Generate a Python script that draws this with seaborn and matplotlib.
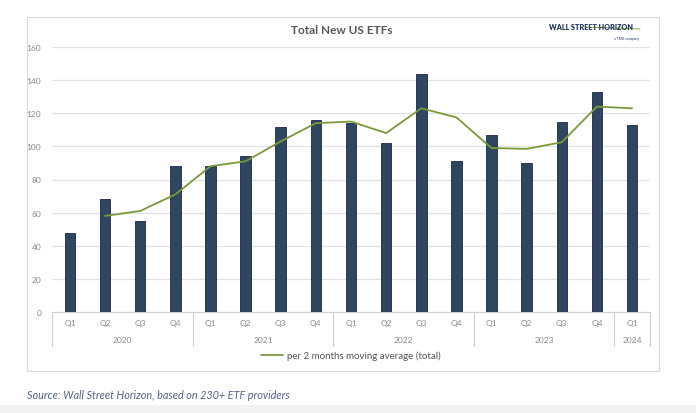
import matplotlib
matplotlib.use("Agg")
import matplotlib.pyplot as plt
import matplotlib.transforms as mtransforms
from matplotlib.patches import Rectangle
from matplotlib.lines import Line2D
import pandas as pd
import seaborn as sns

# data
quarters = ["Q1", "Q2", "Q3", "Q4"] * 4 + ["Q1"]
years = ["2020", "2021", "2022", "2023", "2024"]
year_sizes = [4, 4, 4, 4, 1]
new_etfs = [48, 68, 55, 88, 88, 94, 112, 116, 114, 102, 144, 91, 107, 90, 115, 133, 113]
moving_avg = [None, 58, 61, 71, 88, 91, 103, 114, 115, 108, 123, 117.5, 99, 98.5, 102.5, 124, 123]

labels = [f"{q}\n{i}" for i, q in enumerate(quarters)]
df = pd.DataFrame({"label": labels, "etfs": new_etfs, "ma": moving_avg, "pos": range(len(labels))})

sns.set_style("white")
plt.rcParams["font.family"] = ["Lato", "DejaVu Sans"]

fig = plt.figure(figsize=(6.96, 4.14), dpi=100)
ax = fig.add_axes([52.4 / 696, 1 - 313 / 414, (649.6 - 52.4) / 696, (313 - 48) / 414])

# outer chart frame and page footer band
fig.patches.append(Rectangle((27 / 696, 1 - 372 / 414), 632 / 696, 354 / 414,
                             transform=fig.transFigure, fill=False,
                             edgecolor="#dcdcdc", linewidth=0.8, zorder=0))
fig.patches.append(Rectangle((0, 0), 1, 8 / 414, transform=fig.transFigure,
                             facecolor="#f3f3f3", edgecolor="none", zorder=0))

sns.barplot(data=df, x="label", y="etfs", color="#2f4660", width=0.3,
            edgecolor="#1c2748", linewidth=0.6, saturation=1, ax=ax, zorder=3)
line_df = df.dropna()
sns.lineplot(data=line_df, x="pos", y="ma", color="#7a9a3a", linewidth=1.3, ax=ax,
             label="per 2 months moving average (total)", zorder=4)

ax.set_ylim(0, 160)
ax.set_xlim(-0.5, len(labels) - 0.5)
ax.set_yticks(range(0, 161, 20))
ax.yaxis.grid(True, color="#e3e3e3", linewidth=0.9, zorder=0)
ax.set_axisbelow(True)
for s in ["top", "right", "left"]:
    ax.spines[s].set_visible(False)
ax.spines["bottom"].set_color("#d0d0d0")
ax.set_xlabel("")
ax.set_ylabel("")
ax.set_xticks(range(len(labels)))
ax.set_xticklabels(quarters)
ax.tick_params(axis="both", length=0, labelsize=6, labelcolor="#8a8a8a")
ax.tick_params(axis="x", pad=5)
ax.tick_params(axis="y", pad=8)

# year group labels and separators
trans = mtransforms.blended_transform_factory(ax.transData, ax.transAxes)
start = -0.5
bounds = [start]
for yr, n in zip(years, year_sizes):
    ax.text(start + n / 2, -0.105, yr, transform=trans, ha="center", va="center",
            fontsize=6, color="#8a8a8a")
    start += n
    bounds.append(start)
for b in bounds:
    ax.plot([b, b], [0, -0.13], transform=trans, color="#d0d0d0", linewidth=0.8,
            clip_on=False)

ax.legend(loc="center", bbox_to_anchor=(0.5, -0.165), frameon=False, fontsize=7,
          handlelength=2.2, handletextpad=0.4, labelcolor="#555555")

fig.text(342 / 696, 1 - 31 / 414, "Total New US ETFs", ha="center", va="center",
         fontsize=8.5, fontweight="bold", color="#595959")

# logo as text
fig.text(591 / 696, 1 - 27 / 414, "WALL STREET HORIZON", ha="center", va="center",
         fontsize=5.2, fontweight="heavy", color="#243a5e")
fig.lines.append(Line2D([585 / 696, 640 / 696], [1 - 28 / 414, 1 - 30 / 414],
                        transform=fig.transFigure, color="#8aa83e", linewidth=0.7))
fig.text(627 / 696, 1 - 39 / 414, "a TMX company", ha="center", va="center",
         fontsize=2.5, color="#243a5e")

fig.text(27 / 696, 1 - 396 / 414, "Source: Wall Street Horizon, based on 230+ ETF providers",
         ha="left", va="center", fontsize=7.8, style="italic", color="#56648a")

fig.savefig("out.png", dpi=100)
